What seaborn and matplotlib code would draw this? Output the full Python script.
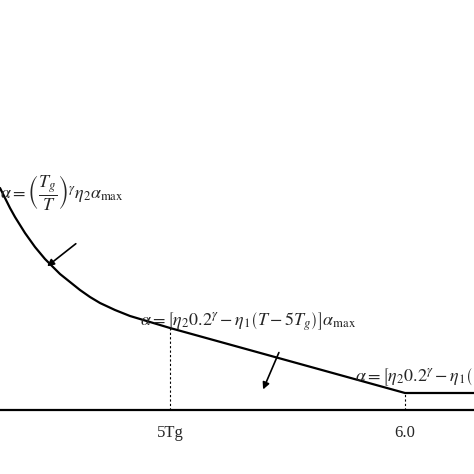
import matplotlib
matplotlib.use("Agg")
import matplotlib.pyplot as plt
import seaborn as sns
import pandas as pd

sns.set_style("white")
plt.rcParams['font.family'] = ['Liberation Serif', 'DejaVu Serif']
plt.rcParams['mathtext.fontset'] = 'stix'

# curve (x position, height above axis)
T = [0, 5, 10, 15, 20, 25, 30, 35, 40, 45, 50, 55, 60, 70, 80, 90, 100, 115, 130, 150, 170, 405, 474]
alpha = [222, 212, 202, 193, 185, 177, 170, 163, 157, 151, 146, 141, 136, 128, 120, 113, 107, 100, 94, 88, 82, 17, 17]
tick_pos = [170, 405]
tick_labels = ["5Tg", "6.0"]

fig = plt.figure(figsize=(4.74, 4.74), dpi=100)
ax = fig.add_axes([0, 0, 1, 1])
df = pd.DataFrame({"T": T, "a": alpha})
sns.lineplot(data=df, x="T", y="a", ax=ax, color="black", lw=1.6)
ax.set_xlim(0, 474)
ax.set_ylim(-64, 410)
ax.axhline(0, color="black", lw=1.6)
for p, lab in zip(tick_pos, tick_labels):
    h = alpha[T.index(p)]
    ax.plot([p, p], [0, h], ls=(0, (2, 2)), color="black", lw=0.8)
    ax.text(p, -23, lab, ha="center", va="center", fontsize=12)
for s in ax.spines.values():
    s.set_visible(False)
ax.set_xticks([]); ax.set_yticks([])
ax.set_xlabel(""); ax.set_ylabel("")

ax.text(0, 218, r"$\alpha=\left(\dfrac{T_g}{T}\right)^{\gamma}\eta_2\alpha_{\max}$", fontsize=13, va="center")
ax.text(140, 88, r"$\alpha=\left[\eta_2 0.2^{\gamma}-\eta_1\left(T-5T_g\right)\right]\alpha_{\max}$", fontsize=13, va="center")
ax.text(355, 32, r"$\alpha=\left[\eta_2 0.2^{\gamma}-\eta_1\left(T-5T_g\right)\right]\alpha_{\max}$", fontsize=13, va="center", clip_on=True)
arr = dict(arrowstyle="-|>", color="black", lw=1.2, mutation_scale=10)
ax.annotate("", xy=(45, 142), xytext=(78, 168), arrowprops=arr)
ax.annotate("", xy=(262, 18), xytext=(280, 60), arrowprops=arr)
fig.savefig("out.png", dpi=100)
